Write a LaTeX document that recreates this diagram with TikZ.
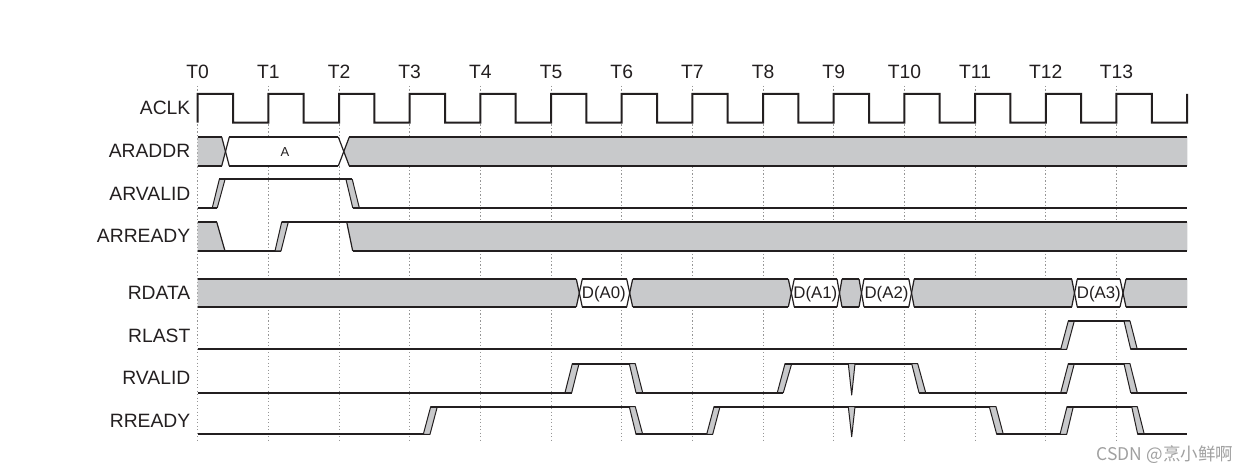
\documentclass[tikz,border=0pt]{standalone}
\usepackage{fontspec}
\setmainfont{Liberation Sans}
\newfontfamily\cjkwm{Noto Sans CJK SC}
\definecolor{lc}{RGB}{35,31,32}
\definecolor{gr}{RGB}{200,201,203}
\definecolor{dotc}{RGB}{150,150,150}
\definecolor{wmc}{RGB}{160,160,160}
% band: x1 x2 (on row yA) x3 x4 (on row yB)
\newcommand{\tband}[6]{\filldraw[band] (#1,#5)--(#2,#5)--(#4,#6)--(#3,#6)--cycle;}
% bus fill between crossings: xa ha xb hb top bot colour
\newcommand{\busfill}[7]{\fill[#7] (#1,{(#5+#6)/2}) -- ({#1+#2},#5) -- ({#3-#4},#5) -- (#3,{(#5+#6)/2}) -- ({#3-#4},#6) -- ({#1+#2},#6) -- cycle;
  \draw[sig] ({#1+#2},#5)--({#3-#4},#5); \draw[sig] ({#1+#2},#6)--({#3-#4},#6);}
% crossing: centre half top bot
\newcommand{\xcross}[4]{\draw[xl] ({#1-#2},#3)--({#1+#2},#4); \draw[xl] ({#1+#2},#3)--({#1-#2},#4);}
% glitch: x1 x2 tip top tipy
\newcommand{\glitch}[5]{\filldraw[band] (#1,#4)--(#2,#4)--(#3,#5)--cycle;}
\begin{document}
\begin{tikzpicture}[x=1pt,y=-1pt,
  sig/.style={draw=lc,line width=2pt,line join=miter},
  band/.style={fill=gr,draw=lc,line width=1pt,line join=round},
  xl/.style={draw=lc,line width=1.2pt},
  gridl/.style={draw=dotc,line width=0.8pt,dash pattern=on 1.2pt off 2.3pt},
  lab/.style={font=\fontsize{19.3}{22}\selectfont,text=lc,inner sep=0pt},
  dlab/.style={font=\fontsize{16.8}{19}\selectfont,text=lc,inner sep=0pt,anchor=base}]
\useasboundingbox (0,0) rectangle (1248,473);
% grid
\foreach \i in {0,...,13} \draw[gridl] ({197.7+70.67*\i},86) -- ({197.7+70.67*\i},442);
% time labels
\foreach \i in {0,...,13} \node[lab,anchor=base] (t\i) at ({197.7+70.67*\i},78.7) {T\i};
% signal labels
\node[lab,anchor=base east] (lclk) at (190.5,115) {ACLK};
\node[lab,anchor=base east] (laddr) at (190.5,157.3) {ARADDR};
\node[lab,anchor=base east] (larv) at (190.5,200.7) {ARVALID};
\node[lab,anchor=base east] (larr) at (190.5,242.3) {ARREADY};
\node[lab,anchor=base east] (lrd) at (190.5,299) {RDATA};
\node[lab,anchor=base east] (lrl) at (190.5,342.3) {RLAST};
\node[lab,anchor=base east] (lrv) at (190.5,384.3) {RVALID};
\node[lab,anchor=base east] (lrr) at (190.5,427.7) {RREADY};
% ACLK
\draw[sig] (197.7,122.7) \foreach \i in {0,...,13} { -- ({197.7+70.67*\i},94) -- ({197.7+70.67*\i+35.33},94) -- ({197.7+70.67*\i+35.33},122.7) -- ({197.7+70.67*(\i+1)},122.7)} -- (1187.1,94);
% ARADDR
\busfill{197.7}{0}{225.5}{3.8}{137}{166}{gr}
\busfill{225.5}{3.8}{343.8}{5.5}{137}{166}{white}
\busfill{343.8}{5.5}{1187.3}{0}{137}{166}{gr}
\xcross{225.5}{3.8}{137}{166}
\xcross{343.8}{5.5}{137}{166}
\node[font=\fontsize{13}{15}\selectfont,text=lc,inner sep=0pt,anchor=base] (aa) at (285,156.7) {A};
% ARVALID
\draw[sig] (197.7,207.7)--(217.3,207.7);
\tband{212.3}{217.3}{219.3}{225}{207.7}{179.5}
\draw[sig] (219.3,179.5)--(352.3,179.5);
\tband{346}{352.3}{352.7}{359.3}{179.5}{207.7}
\draw[sig] (352.7,207.7)--(1187.3,207.7);
% ARREADY
\fill[gr] (197.7,222)--(216.7,222)--(225,251)--(197.7,251)--cycle;
\draw[sig] (197.7,222)--(216.7,222);
\draw[xl] (216.7,222)--(225,251);
\draw[sig] (197.7,251)--(281,251);
\tband{275}{281}{281.7}{288.3}{251}{222}
\draw[sig] (281.7,222)--(346.7,222);
\fill[gr] (346.7,222)--(1187.3,222)--(1187.3,251)--(352.7,251)--cycle;
\draw[xl] (346.7,222)--(352.7,251);
\draw[sig] (346.7,222)--(1187.3,222);
\draw[sig] (352.7,251)--(1187.3,251);
% RDATA
\busfill{197.7}{0}{579.3}{3}{279}{307}{gr}
\busfill{579.3}{3}{629.7}{3}{279}{307}{white}
\busfill{629.7}{3}{791.3}{3}{279}{307}{gr}
\busfill{791.3}{3}{839.5}{2.5}{279}{307}{white}
\busfill{839.5}{2.5}{861.5}{2.5}{279}{307}{gr}
\busfill{861.5}{2.5}{911.5}{2.7}{279}{307}{white}
\busfill{911.5}{2.7}{1074.5}{2.8}{279}{307}{gr}
\busfill{1074.5}{2.8}{1123}{3}{279}{307}{white}
\busfill{1123}{3}{1187.3}{0}{279}{307}{gr}
\xcross{579.3}{3}{279}{307}
\xcross{629.7}{3}{279}{307}
\xcross{791.3}{3}{279}{307}
\xcross{839.5}{2.5}{279}{307}
\xcross{861.5}{2.5}{279}{307}
\xcross{911.5}{2.7}{279}{307}
\xcross{1074.5}{2.8}{279}{307}
\xcross{1123}{3}{279}{307}
\node[dlab] (d0) at (603.8,298.5) {D(A0)};
\node[dlab] (d1) at (815.4,298.5) {D(A1)};
\node[dlab] (d2) at (886.5,298.5) {D(A2)};
\node[dlab] (d3) at (1098.8,298.5) {D(A3)};
% RLAST
\draw[sig] (197.7,349.3)--(1066.7,349.3);
\tband{1060.7}{1066.7}{1068.3}{1074.3}{349.3}{321}
\draw[sig] (1068.3,321)--(1130,321);
\tband{1124}{1130}{1130.7}{1137.3}{321}{349.3}
\draw[sig] (1130.7,349.3)--(1187.3,349.3);
% RVALID
\draw[sig] (197.7,392.7)--(571.7,392.7);
\tband{565}{571.7}{572.3}{579}{392.7}{363.7}
\draw[sig] (572.3,363.7)--(635.3,363.7);
\tband{629.3}{635.3}{636}{642.7}{363.7}{392.7}
\draw[sig] (636,392.7)--(783.3,392.7);
\tband{777.3}{783.3}{785}{791.7}{392.7}{363.7}
\draw[sig] (785,363.7)--(917.7,363.7);
\glitch{848.3}{855}{851.7}{363.7}{395}
\tband{911.7}{917.7}{919}{925.7}{363.7}{392.7}
\draw[sig] (919,392.7)--(1066.7,392.7);
\tband{1060.7}{1066.7}{1068.3}{1074.3}{392.7}{363.7}
\draw[sig] (1068.3,363.7)--(1130,363.7);
\tband{1124}{1130}{1130.7}{1137.3}{363.7}{392.7}
\draw[sig] (1130.7,392.7)--(1187.3,392.7);
% RREADY
\draw[sig] (197.7,434.3)--(430,434.3);
\tband{423.3}{430}{430.7}{437.3}{434.3}{406.7}
\draw[sig] (430.7,406.7)--(635.3,406.7);
\tband{629.3}{635.3}{636}{642.7}{406.7}{434.3}
\draw[sig] (636,434.3)--(712.7,434.3);
\tband{706.7}{712.7}{714}{720}{434.3}{406.7}
\draw[sig] (714,406.7)--(996,406.7);
\glitch{848.3}{855}{851.7}{406.7}{436.7}
\tband{989.3}{996}{996.7}{1003.3}{406.7}{434.3}
\draw[sig] (996.7,434.3)--(1066.7,434.3);
\tband{1060}{1066.7}{1067}{1073.3}{434.3}{406.7}
\draw[sig] (1067,406.7)--(1137.3,406.7);
\tband{1131.7}{1137.3}{1137.7}{1144.3}{406.7}{434.3}
\draw[sig] (1137.7,434.3)--(1187.3,434.3);
% watermark
\node[anchor=base west,font=\cjkwm\fontsize{17.5}{19}\selectfont,text=wmc,inner sep=0pt] (wmark) at (1096.5,460.5) {CSDN @烹小鲜啊};
\end{tikzpicture}
\end{document}
